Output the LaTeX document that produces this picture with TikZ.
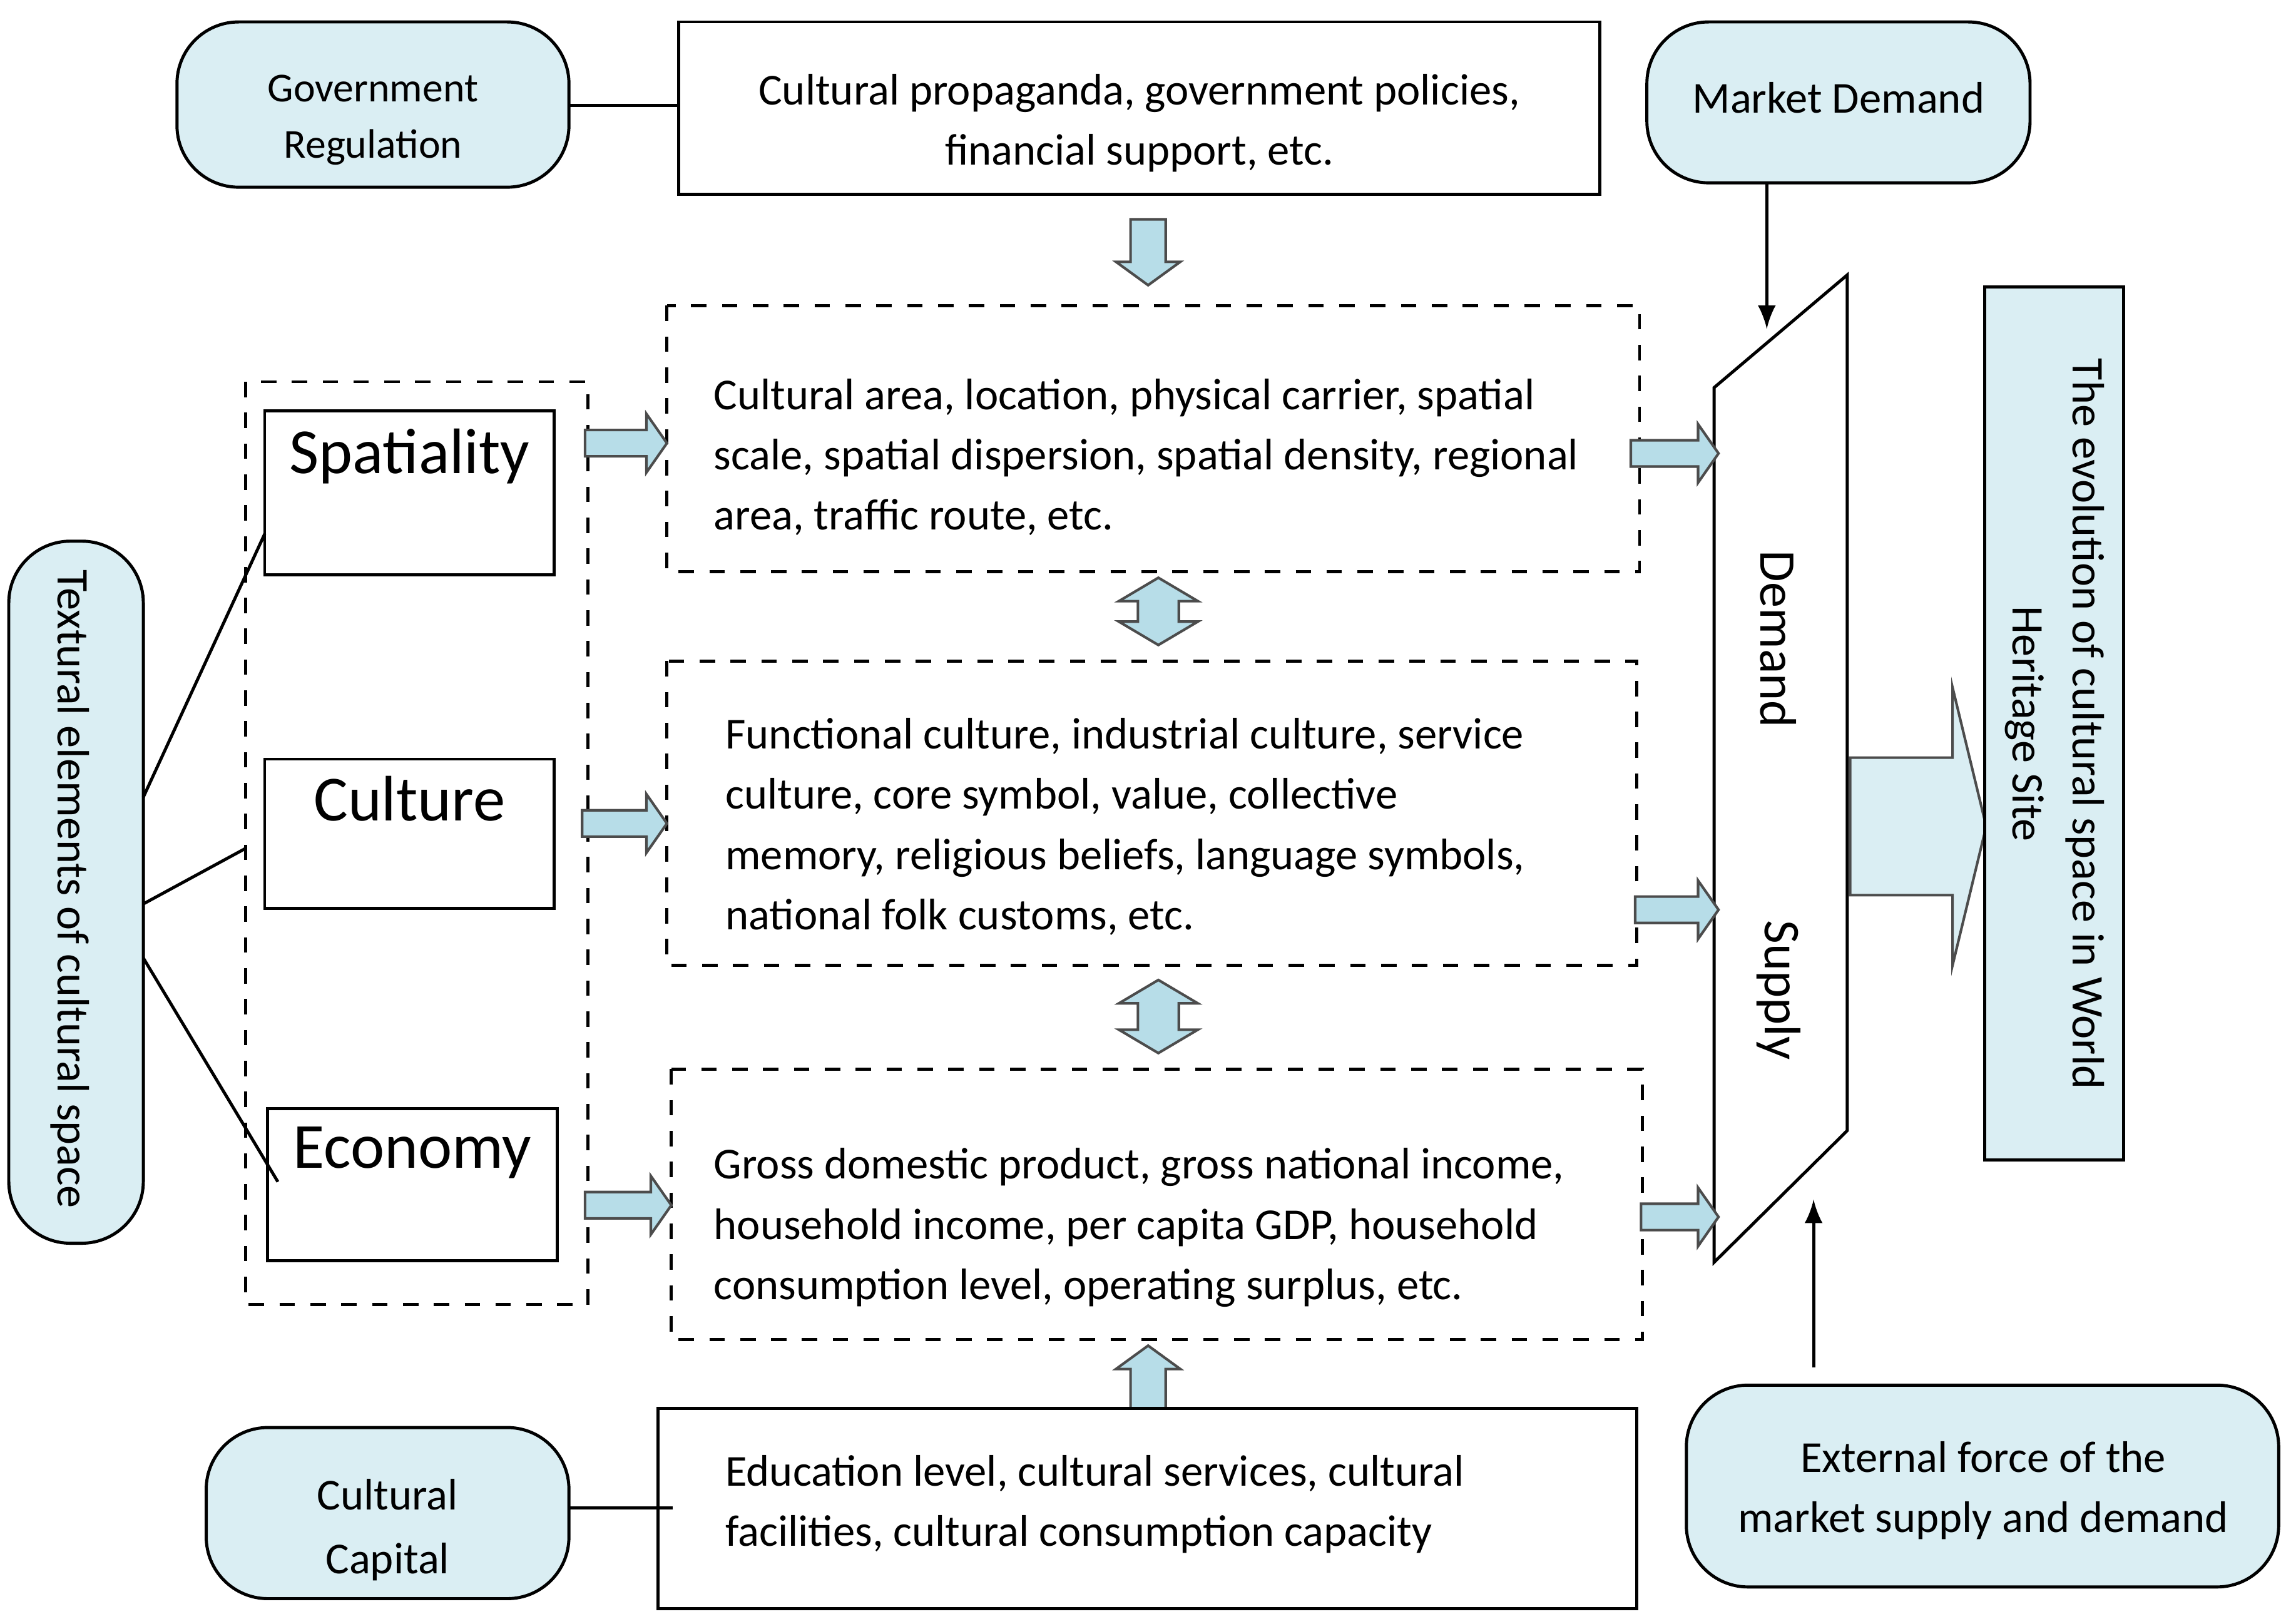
\documentclass[tikz,border=0pt]{standalone}
\usepackage{fontspec}
\setmainfont{Carlito}
\usetikzlibrary{calc}
\definecolor{boxblue}{HTML}{DAEEF3}
\definecolor{arrblue}{HTML}{B7DDE8}
\tikzset{
  rb/.style={draw, rounded corners=12pt, fill=boxblue},
  fat/.style={draw=black!70, fill=arrblue, line width=0.5pt},
  txt/.style={font=\fontsize{8.6}{11.7}\selectfont, align=left, anchor=north west, inner sep=0pt},
  big/.style={font=\fontsize{12.5}{15}\selectfont}
}
% fat right arrow: start x, end x, centre y
\newcommand\fatright[3]{\draw[fat] (#1,#3-9) -- (#2-14,#3-9) -- (#2-14,#3-20) -- (#2,#3) -- (#2-14,#3+20) -- (#2-14,#3+9) -- (#1,#3+9) -- cycle;}
\newcommand\fatdown[3]{\draw[fat] (#1-12,#2) -- (#1+12,#2) -- (#1+12,#3-16) -- (#1+22,#3-16) -- (#1,#3) -- (#1-22,#3-16) -- (#1-12,#3-16) -- cycle;}
\newcommand\fatup[3]{\draw[fat] (#1-12,#2) -- (#1+12,#2) -- (#1+12,#3+16) -- (#1+22,#3+16) -- (#1,#3) -- (#1-22,#3+16) -- (#1-12,#3+16) -- cycle;}
\newcommand\fatud[3]{\draw[fat] (#1,#2) -- (#1+27,#2+16) -- (#1+14,#2+16) -- (#1+14,#3-16) -- (#1+27,#3-16) -- (#1,#3) -- (#1-27,#3-16) -- (#1-14,#3-16) -- (#1-14,#2+16) -- (#1-27,#2+16) -- cycle;}
\begin{document}
\begin{tikzpicture}[x=0.01cm, y=-0.01cm, line width=0.6pt]
\useasboundingbox (0,0) rectangle (1563,1110);
% top row
\draw[rb] (121,15) rectangle (389,128);
\node[font=\fontsize{8}{11}\selectfont, align=center] (govt) at (255,82) {Government\\Regulation};
\draw (464,15) rectangle (1094,133);
\node[font=\fontsize{8.6}{11.7}\selectfont, align=center] (pol) at (779,84) {Cultural propaganda, government policies,\\financial support, etc.};
\draw (389,72) -- (464,72);
\draw[rb] (1126,15) rectangle (1388,125);
\node[font=\fontsize{8.6}{11.7}\selectfont] (mkt) at (1257,67) {Market Demand};
\fatdown{785}{150}{195}
% middle dashed boxes
\draw[dashed] (456,209) rectangle (1121,391);
\node[txt] (t1) at (487,258) {Cultural area, location, physical carrier, spatial\\scale, spatial dispersion, spatial density, regional\\area, traffic route, etc.};
\draw[dashed] (456,452) rectangle (1119,660);
\node[txt] (t2) at (495,490) {Functional culture, industrial culture, service\\culture, core symbol, value, collective\\memory, religious beliefs, language symbols,\\national folk customs, etc.};
\draw[dashed] (459,731) rectangle (1123,916);
\node[txt] (t3) at (487,784) {Gross domestic product, gross national income,\\household income, per capita GDP, household\\consumption level, operating surplus, etc.};
\fatud{792}{395}{441}
\fatud{792}{670}{720}
\fatup{785}{963}{920}
% bottom
\draw (450,963) rectangle (1119,1100);
\node[txt] (t4) at (495,994) {Education level, cultural services, cultural\\facilities, cultural consumption capacity};
\draw[rb] (141,976) rectangle (389,1093);
\node[font=\fontsize{8.6}{12.5}\selectfont, align=center] (cap) at (265,1046) {Cultural\\Capital};
\draw (389,1031) -- (460,1031);
% left
\draw[dashed] (168,261) rectangle (402,892);
\draw (181,281) rectangle (379,393);
\node[big] (sp) at (280,312) {Spatiality};
\draw (181,519) rectangle (379,621);
\node[big] (cu) at (280,546) {Culture};
\draw (183,758) rectangle (381,862);
\node[big] (ec) at (282,788) {Economy};
\fatright{400}{456}{303}
\fatright{398}{456}{563}
\fatright{400}{459}{824}
\draw[rb] (6,370) rectangle (98,850);
\node[rotate=-90, font=\fontsize{8.8}{12}\selectfont] (tex) at (48,608) {Textural elements of cultural space};
\draw (98,545) -- (181,365);
\draw (98,618) -- (168,580);
\draw (98,655) -- (190,808);
% trapezoid
\draw (1172,265) -- (1263,188) -- (1263,773) -- (1172,863) -- cycle;
\node[rotate=-90, font=\fontsize{10}{12}\selectfont] (dem) at (1216,437) {Demand};
\node[rotate=-90, font=\fontsize{10}{12}\selectfont] (sup) at (1216,677) {Supply};
\fatright{1115}{1175}{310}
\fatright{1118}{1175}{622}
\fatright{1122}{1175}{832}
\draw[-latex] (1208,125) -- (1208,225);
\draw[rb] (1153,947) rectangle (1558,1085);
\node[font=\fontsize{8.6}{11.7}\selectfont, align=center] (ext) at (1356,1019) {External force of the\\market supply and demand};
\draw[-latex] (1240,935) -- (1240,820);
% big arrow and result
\draw[fat, fill=boxblue] (1265,518) -- (1335,518) -- (1335,470) -- (1358,565) -- (1335,660) -- (1335,612) -- (1265,612) -- cycle;
\draw[fill=boxblue] (1357,196) rectangle (1452,793);
\node[rotate=-90, font=\fontsize{8.8}{11.7}\selectfont, align=center] (evo) at (1405,495) {The evolution of cultural space in World\\Heritage Site};
\end{tikzpicture}
\end{document}
